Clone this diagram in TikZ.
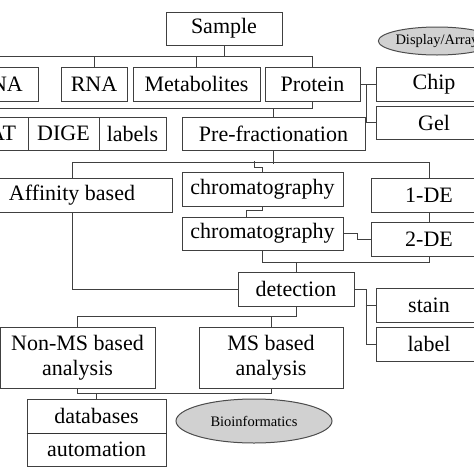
\documentclass[tikz,border=0pt]{standalone}
\usepackage{fontspec}
\setmainfont{Liberation Serif}
\usetikzlibrary{shapes.geometric}
\tikzset{
  box/.style={draw=black!75, line width=1pt, rectangle, inner sep=0pt, text=black,
    font=\fontsize{22}{25}\selectfont, align=center},
  oval/.style={draw=black!70, line width=1pt, ellipse, inner sep=0pt, fill=black!18,
    font=\fontsize{14.5}{16}\selectfont},
  conn/.style={draw=black!75, line width=1pt}
}
\begin{document}
\begin{tikzpicture}[x=1pt,y=-1pt]
\path[use as bounding box] (0,0) rectangle (474,474);
\clip (0,0) rectangle (474,474);
\fill[white] (0,0) rectangle (474,474);
% nodes
\node[box, minimum width=116, minimum height=33] (Sample) at (224,28.5) {Sample};
\node[box, minimum width=78, minimum height=34] (DNA) at (-1,84) {DNA};
\node[box, minimum width=66, minimum height=34] (RNA) at (94,84) {RNA};
\node[box, minimum width=127, minimum height=34] (Metab) at (196.5,84) {Metabolites};
\node[box, minimum width=95, minimum height=34] (Protein) at (312.5,84) {Protein};
\node[box, minimum width=116, minimum height=34] (Chip) at (434,84) {Chip};
\node[box, minimum width=116, minimum height=33] (Gel) at (434,122.5) {Gel};
\node[oval, minimum width=100, minimum height=28] (Display) at (437,41) {Display/Array};
\node[box, minimum width=73, minimum height=33] (ICAT) at (-8.5,133.5) {ICAT};
\node[box, minimum width=71, minimum height=33] (DIGE) at (63.5,133.5) {DIGE};
\node[box, minimum width=67, minimum height=33] (labels) at (132.5,133.5) {labels};
\node[box, minimum width=183, minimum height=33] (Prefrac) at (273.5,133.5) {Pre-fractionation};
\node[box, minimum width=200, minimum height=34] (Affinity) at (72,195) {Affinity based};
\node[box, minimum width=161, minimum height=34] (chromA) at (262.5,189) {chromatography};
\node[box, minimum width=116, minimum height=34] (OneDE) at (429,195) {1-DE};
\node[box, minimum width=161, minimum height=33] (chromB) at (262.5,233.5) {chromatography};
\node[box, minimum width=116, minimum height=34] (TwoDE) at (429,239) {2-DE};
\node[box, minimum width=116, minimum height=34] (detection) at (296,289) {detection};
\node[box, minimum width=106, minimum height=34] (stain) at (429,305) {stain};
\node[box, minimum width=106, minimum height=34] (label) at (429,344) {label};
\node[box, minimum width=155, minimum height=61] (NonMS) at (77.5,357.5) {Non-MS based\\analysis};
\node[box, minimum width=144, minimum height=61] (MS) at (271,357.5) {MS based\\analysis};
\node[box, minimum width=139, minimum height=34] (databases) at (96.5,416) {databases};
\node[box, minimum width=139, minimum height=33] (automation) at (96.5,449.5) {automation};
\node[oval, minimum width=156, minimum height=44] (Bioinf) at (254,421) {Bioinformatics};
% helper coordinates
\coordinate (busA) at (-10,56);
\coordinate (busB) at (-10,108);
\coordinate (jog) at (254,161);
% connectors
\draw[conn] (Sample.south) -- (Sample.south |- busA);
\draw[conn] (busA) -| (Protein.north);
\draw[conn] (RNA.north) -- (RNA.north |- busA);
\draw[conn] (Metab.north) -- (Metab.north |- busA);
\draw[conn] (busB) -| (Protein.south);
\draw[conn] (Prefrac.north) -- (Prefrac.north |- busB);
\draw[conn] (Protein.east) -- (Chip.west);
\draw[conn] ([xshift=-9pt]Chip.west) |- (Gel.west);
\draw[conn] (Affinity.north) -- ++(0,-15) -| (OneDE.north);
\draw[conn] (Prefrac.south) -- ++(0,13);
\draw[conn] (jog) -- ++(0,6) -| (chromA.north);
\draw[conn] (chromA.south) -- ++(0,4) -| ([xshift=-16.5pt]chromB.north);
\draw[conn] (OneDE.south) -- (TwoDE.north);
\draw[conn] (chromB.east) -- ++(14,0) |- (TwoDE.west);
\draw[conn] (chromB.south) -- ++(0,12) -| (TwoDE.south);
\draw[conn] (detection.north) -- ++(0,-10);
\draw[conn] (Affinity.south) |- (detection.west);
\draw[conn] (detection.east) -- ++(12,0) |- (label.west);
\draw[conn] ([xshift=-10pt]stain.west) -- (stain.west);
\draw[conn] (detection.south) -- ++(0,10) -| (NonMS.north);
\draw[conn] (MS.north) -- ++(0,-11);
\draw[conn] (NonMS.south) -- ++(0,5) -| (MS.south);
\draw[conn] (databases.north) -- ++(0,-6);
\draw[line width=1.6pt, black!80] (databases.south west) -- (databases.south east);
\end{tikzpicture}
\end{document}
